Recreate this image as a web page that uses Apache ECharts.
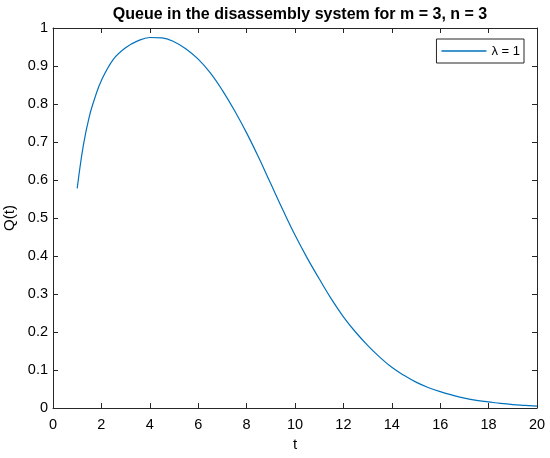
<!DOCTYPE html>
<html>
<head>
<meta charset="utf-8">
<script src="https://cdn.jsdelivr.net/npm/echarts@6/dist/echarts.min.js"></script>
<style>
  html, body { margin: 0; padding: 0; background: #fff; }
  #chart { width: 550px; height: 458px; }
</style>
</head>
<body>
<div id="chart"></div>
<script>
// values
var tValues = [1, 1.25, 1.5, 1.75, 2, 2.5, 3, 3.5, 4, 4.5, 5, 5.5, 6, 6.5, 7, 7.5, 8, 8.5, 9, 9.5,
    10, 10.5, 11, 11.5, 12, 12.5, 13, 13.5, 14, 14.5, 15, 15.5, 16, 16.5, 17, 17.5, 18, 18.5, 19, 19.5, 20];
var qValues = [0.578, 0.69, 0.767, 0.82, 0.862, 0.918, 0.948, 0.966, 0.975, 0.974, 0.964, 0.945, 0.918, 0.882,
    0.836, 0.783, 0.724, 0.659, 0.59, 0.521, 0.455, 0.395, 0.34, 0.287, 0.24, 0.2, 0.165, 0.134, 0.107,
    0.086, 0.068, 0.054, 0.043, 0.034, 0.026, 0.02, 0.016, 0.012, 0.009, 0.007, 0.005];
var seriesName = 'λ = 1';

var font = "'Liberation Sans', Arial, Helvetica, sans-serif";
var axisColor = '#262626';

var points = [];
for (var i = 0; i < tValues.length; i++) {
    points.push([tValues[i], qValues[i]]);
}

var myChart = echarts.init(document.getElementById('chart'));

// one side of the matlab style box, ticks pointing inwards
function boxAxis(pos, min, max, interval, isMain) {
    return {
        type: 'value',
        position: pos,
        min: min,
        max: max,
        interval: interval,
        axisLine: { show: true, onZero: false, lineStyle: { color: axisColor, width: 1 } },
        axisTick: { show: true, inside: true, length: 5, lineStyle: { color: axisColor } },
        axisLabel: {
            show: isMain,
            color: '#000',
            fontSize: 14.5,
            fontFamily: font,
            margin: (pos === 'bottom') ? 9 : 5
        },
        splitLine: { show: false }
    };
}

var xMain = boxAxis('bottom', 0, 20, 2, true);
xMain.name = 't';
xMain.nameLocation = 'middle';
xMain.nameGap = 29;
xMain.nameTextStyle = { color: '#000', fontSize: 15, fontFamily: font };

var yMain = boxAxis('left', 0, 1, 0.1, true);
yMain.name = 'Q(t)';
yMain.nameLocation = 'middle';
yMain.nameGap = 30;
yMain.nameTextStyle = { color: '#000', fontSize: 15, fontFamily: font };
yMain.axisLabel.formatter = function (v) {
    return String(Math.round(v * 10) / 10);
};

var option = {
    backgroundColor: '#fff',
    animation: false,
    title: {
        text: 'Queue in the disassembly system for m = 3, n = 3',
        left: 295,
        textAlign: 'center',
        top: 2,
        textStyle: { color: '#000', fontSize: 16, fontWeight: 'bold', fontFamily: font }
    },
    grid: { left: 53, right: 13, top: 28, bottom: 50, containLabel: false, outerBoundsMode: 'none' },
    legend: {
        data: [{ name: seriesName, icon: 'rect' }],
        right: 26,
        top: 39,
        orient: 'vertical',
        backgroundColor: '#fff',
        borderColor: axisColor,
        borderWidth: 1,
        borderRadius: 0,
        padding: [5, 4, 5, 5],
        itemWidth: 45,
        itemHeight: 1.5,
        itemStyle: { color: '#0072BD' },
        textStyle: { color: '#000', fontSize: 13, fontFamily: font, lineHeight: 14 }
    },
    xAxis: [xMain, boxAxis('top', 0, 20, 2, false)],
    yAxis: [yMain, boxAxis('right', 0, 1, 0.1, false)],
    series: [
        {
            name: seriesName,
            type: 'line',
            xAxisIndex: 0,
            yAxisIndex: 0,
            data: points,
            smooth: 0.4,
            symbol: 'none',
            lineStyle: { color: '#0072BD', width: 1.2 },
            itemStyle: { color: '#0072BD' }
        }
    ]
};

myChart.setOption(option);
</script>
</body>
</html>
